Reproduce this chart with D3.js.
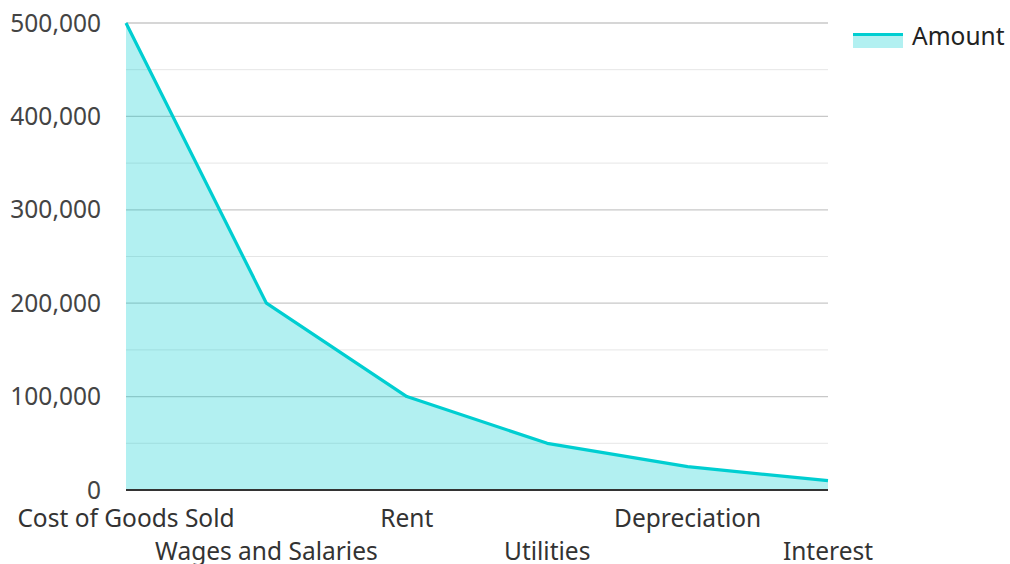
<!DOCTYPE html>
<html>
<head>
<meta charset="utf-8">
<script src="https://cdn.jsdelivr.net/npm/d3@7"></script>
<style>
  body { margin: 0; background: #fff; }
  svg { display: block; font-family: "Noto Sans", "Open Sans", sans-serif; }
</style>
</head>
<body>
<svg id="chart" width="1010" height="564"></svg>
<script>
const categories = ["Cost of Goods Sold", "Wages and Salaries", "Rent", "Utilities", "Depreciation", "Interest"];
const amounts = [500000, 200000, 100000, 50000, 25000, 10000];
const yTicks = [0, 100000, 200000, 300000, 400000, 500000];
const minorTicks = [50000, 150000, 250000, 350000, 450000];
const seriesName = "Amount";

const svg = d3.select("#chart");
const margin = { left: 126, right: 182, top: 23, bottom: 74 };
const width = 1010, height = 564;

const x = d3.scalePoint().domain(categories).range([margin.left, width - margin.right]);
const y = d3.scaleLinear().domain([0, 500000]).range([height - margin.bottom, margin.top]);

const data = categories.map((c, i) => ({ cat: c, value: amounts[i] }));

// Grid lines
svg.append("g").selectAll("line.minor")
    .data(minorTicks)
    .enter().append("line")
    .attr("x1", margin.left).attr("x2", width - margin.right)
    .attr("y1", d => y(d)).attr("y2", d => y(d))
    .attr("stroke", "#e6e6e6").attr("stroke-width", 1);

svg.append("g").selectAll("line.major")
    .data(yTicks.filter(d => d > 0))
    .enter().append("line")
    .attr("x1", margin.left).attr("x2", width - margin.right)
    .attr("y1", d => y(d)).attr("y2", d => y(d))
    .attr("stroke", "#c8c8c8").attr("stroke-width", 1.3);

// Area + line
const area = d3.area().x(d => x(d.cat)).y0(y(0)).y1(d => y(d.value));
const line = d3.line().x(d => x(d.cat)).y(d => y(d.value));

svg.append("path").datum(data)
    .attr("d", area)
    .attr("fill", "#00ced1").attr("fill-opacity", 0.3);

svg.append("path").datum(data)
    .attr("d", line)
    .attr("fill", "none")
    .attr("stroke", "#00ced1").attr("stroke-width", 3.2)
    .attr("stroke-linejoin", "round");

// Baseline
svg.append("line")
    .attr("x1", margin.left).attr("x2", width - margin.right)
    .attr("y1", y(0)).attr("y2", y(0))
    .attr("stroke", "#333").attr("stroke-width", 2);

// Y labels
svg.append("g").selectAll("text")
    .data(yTicks)
    .enter().append("text")
    .attr("x", 101)
    .attr("y", d => y(d) + 2)
    .attr("text-anchor", "end")
    .attr("dominant-baseline", "middle")
    .attr("fill", "#444")
    .style("font-size", "24.5px")
    .text(d => d3.format(",")(d));

// X labels, staggered
svg.append("g").selectAll("text")
    .data(categories)
    .enter().append("text")
    .attr("x", d => x(d))
    .attr("y", (d, i) => i % 2 === 0 ? 520 : 553)
    .attr("text-anchor", "middle")
    .attr("dominant-baseline", "middle")
    .attr("fill", "#333")
    .style("font-size", "24.5px")
    .text(d => d);

// Legend
const legend = svg.append("g").attr("transform", "translate(853,33)");
legend.append("rect").attr("x", 0).attr("y", 0).attr("width", 50).attr("height", 15)
    .attr("fill", "#00ced1").attr("fill-opacity", 0.3);
legend.append("line").attr("x1", 0).attr("x2", 50).attr("y1", 1.5).attr("y2", 1.5)
    .attr("stroke", "#00ced1").attr("stroke-width", 3);
legend.append("text").attr("x", 59).attr("y", 5)
    .attr("dominant-baseline", "middle")
    .attr("fill", "#222")
    .style("font-size", "24.5px")
    .text(seriesName);
</script>
</body>
</html>
